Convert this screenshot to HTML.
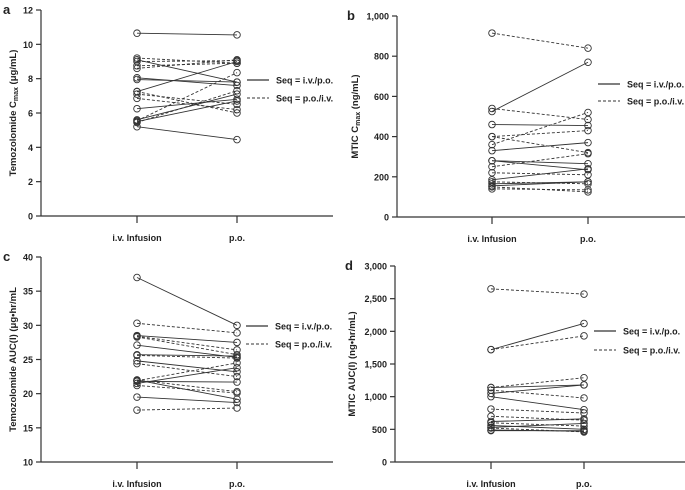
<!DOCTYPE html>
<html><head><meta charset="utf-8">
<style>
html,body{margin:0;padding:0;background:#fff;}
svg{display:block;font-family:"Liberation Sans",Arial,sans-serif;}
text{font-weight:bold;fill:#222;}
</style></head>
<body>
<svg id="chart" width="685" height="490" viewBox="0 0 685 490"></svg>
<script>
// Panel a: Temozolomide Cmax
const aSolidIV = [10.65, 9.1, 8.05, 7.95, 7.25, 6.25, 5.6, 5.5, 5.2];
const aSolidPO = [10.55, 7.8, 7.6, 7.8, 9.0, 6.8, 7.1, 6.7, 4.45];
const aDashIV = [9.2, 9.0, 8.75, 8.6, 7.25, 6.85, 5.55, 5.45, 7.1];
const aDashPO = [8.9, 9.05, 8.9, 9.1, 6.0, 6.2, 8.35, 7.3, 6.5];
const aTicks = [0, 2, 4, 6, 8, 10, 12];
// Panel b: MTIC Cmax
const bSolidIV = [525, 460, 330, 280, 280, 185, 165, 155];
const bSolidPO = [770, 455, 370, 235, 265, 240, 175, 175];
const bDashIV = [915, 540, 400, 360, 250, 220, 175, 150, 140, 400];
const bDashPO = [840, 485, 320, 520, 315, 210, 165, 125, 135, 430];
const bTicks = [0, 200, 400, 600, 800, 1000];
// Panel c: Temozolomide AUC
const cSolidIV = [37, 28.5, 27.1, 25.7, 24.8, 22, 21.5, 21.8, 19.5];
const cSolidPO = [30, 27.5, 25.3, 25.5, 23.2, 19.2, 23.8, 21.7, 18.7];
const cDashIV = [30.3, 28.4, 28.3, 25.6, 24.4, 22, 21.2, 21.9, 17.6];
const cDashPO = [28.9, 26.4, 25.7, 25.2, 22.5, 20.3, 20.1, 24.5, 17.9];
const cTicks = [10, 15, 20, 25, 30, 35, 40];
// Panel d: MTIC AUC
const dSolidIV = [1720, 1140, 1050, 1000, 620, 560, 530, 490, 480];
const dSolidPO = [2120, 1180, 1180, 800, 660, 500, 590, 470, 480];
const dDashIV = [2650, 1720, 1140, 1100, 810, 700, 600, 520];
const dDashPO = [2570, 1930, 1290, 980, 750, 640, 550, 460];
const dTicks = [0, 500, 1000, 1500, 2000, 2500, 3000];
const xCats = ["i.v. Infusion", "p.o."];

const NS = "http://www.w3.org/2000/svg";
const svg = document.getElementById("chart");
function mk(tag, attrs, parent) {
  const e = document.createElementNS(NS, tag);
  for (const k in attrs) e.setAttribute(k, attrs[k]);
  (parent || svg).appendChild(e);
  return e;
}
function fmt(v) { return v >= 1000 ? v.toLocaleString("en-US") : String(v); }

function panel(cfg) {
  const g = mk("g", {});
  
  
  const y = v => cfg.y0 + (v - cfg.min) / (cfg.max - cfg.min) * (cfg.y1 - cfg.y0);
  const xs = cfg.xs;
  // axes
  const ya = mk("line", {x1: cfg.ax, y1: cfg.y1, x2: cfg.ax, y2: cfg.y0, stroke: "#333", "stroke-width": 1.2}, g);
  
  
  const xa = mk("line", {x1: cfg.ax, y1: cfg.y0, x2: cfg.xend, y2: cfg.y0, stroke: "#333", "stroke-width": 1.2}, g);
  
  
  cfg.ticks.forEach(t => {
    mk("line", {x1: cfg.ax - 5, x2: cfg.ax, y1: y(t), y2: y(t), stroke: "#333", "stroke-width": 1.2}, g);
    const tl = mk("text", {x: cfg.ax - 8, y: y(t) + 3.5, "text-anchor": "end", "font-size": 9}, g);
    tl.textContent = fmt(t);
    
    
  });
  xCats.forEach((c, i) => {
    mk("line", {x1: xs[i], x2: xs[i], y1: cfg.y0, y2: cfg.y0 + 7, stroke: "#333", "stroke-width": 1.2}, g);
    const tl = mk("text", {x: xs[i], y: cfg.y0 + 25, "text-anchor": "middle", "font-size": 9}, g);
    tl.textContent = c;
    
    
  });
  const lab = mk("text", {x: cfg.labX, y: cfg.y1 + 4, "font-size": 13}, g);
  lab.textContent = cfg.letter;
  
  
  const yt = mk("text", {transform: `translate(${cfg.titleX},${(cfg.y0 + cfg.y1) / 2}) rotate(-90)`, "text-anchor": "middle", "font-size": 9.5}, g);
  yt.innerHTML = cfg.title;
  
  
  // series
  function series(iv, po, dash, nm) {
    iv.forEach((v, i) => {
      const l = mk("line", {x1: xs[0], y1: y(v), x2: xs[1], y2: y(po[i]), stroke: "#333", "stroke-width": 0.9, "stroke-dasharray": dash ? "3,2" : "none"}, g);
      
      
      [[xs[0], v], [xs[1], po[i]]].forEach(p => {
        const c = mk("circle", {cx: p[0], cy: y(p[1]), r: 3.3, fill: "none", stroke: "#333", "stroke-width": 0.9}, g);
        
        
      });
    });
  }
  series(cfg.sIV, cfg.sPO, false, "seq-iv-po");
  series(cfg.dIV, cfg.dPO, true, "seq-po-iv");
  // legend
  [["Seq = i.v./p.o.", false, cfg.leg[0]], ["Seq = p.o./i.v.", true, cfg.leg[1]]].forEach(([t, d, ly]) => {
    const lg = mk("g", {}, g);
    
    
    mk("line", {x1: cfg.legX, x2: cfg.legX + 22, y1: ly, y2: ly, stroke: "#333", "stroke-width": d ? 0.9 : 1.2, "stroke-dasharray": d ? "3,2" : "none"}, lg);
    const tx = mk("text", {x: cfg.legX + 29, y: ly + 3.5, "font-size": 9}, lg);
    tx.textContent = t;
  });
}

panel({name: "panel-a-temozolomide-cmax", letter: "a", ax: 41, xend: 333, xs: [137, 237], y0: 216, y1: 10, min: 0, max: 12, ticks: aTicks,
  sIV: aSolidIV, sPO: aSolidPO, dIV: aDashIV, dPO: aDashPO, labX: 3, titleX: 16,
  title: 'Temozolomide C<tspan font-size="7" dy="2">max</tspan><tspan dy="-2"> (μg/mL)</tspan>', legX: 247, leg: [80, 98]});
panel({name: "panel-b-mtic-cmax", letter: "b", ax: 397, xend: 685, xs: [492, 588], y0: 217, y1: 16, min: 0, max: 1000, ticks: bTicks,
  sIV: bSolidIV, sPO: bSolidPO, dIV: bDashIV, dPO: bDashPO, labX: 347, titleX: 358,
  title: 'MTIC C<tspan font-size="7" dy="2">max</tspan><tspan dy="-2"> (ng/mL)</tspan>', legX: 598, leg: [84, 101]});
panel({name: "panel-c-temozolomide-auc", letter: "c", ax: 41, xend: 333, xs: [137, 237], y0: 462, y1: 257, min: 10, max: 40, ticks: cTicks,
  sIV: cSolidIV, sPO: cSolidPO, dIV: cDashIV, dPO: cDashPO, labX: 3, titleX: 16,
  title: 'Temozolomide AUC(I) (μg•hr/mL', legX: 246, leg: [326, 344]});
panel({name: "panel-d-mtic-auc", letter: "d", ax: 395, xend: 685, xs: [491, 584], y0: 462, y1: 266, min: 0, max: 3000, ticks: dTicks,
  sIV: dSolidIV, sPO: dSolidPO, dIV: dDashIV, dPO: dDashPO, labX: 345, titleX: 355,
  title: 'MTIC AUC(I) (ng•hr/mL)', legX: 594, leg: [331, 350]});
</script>
</body></html>
